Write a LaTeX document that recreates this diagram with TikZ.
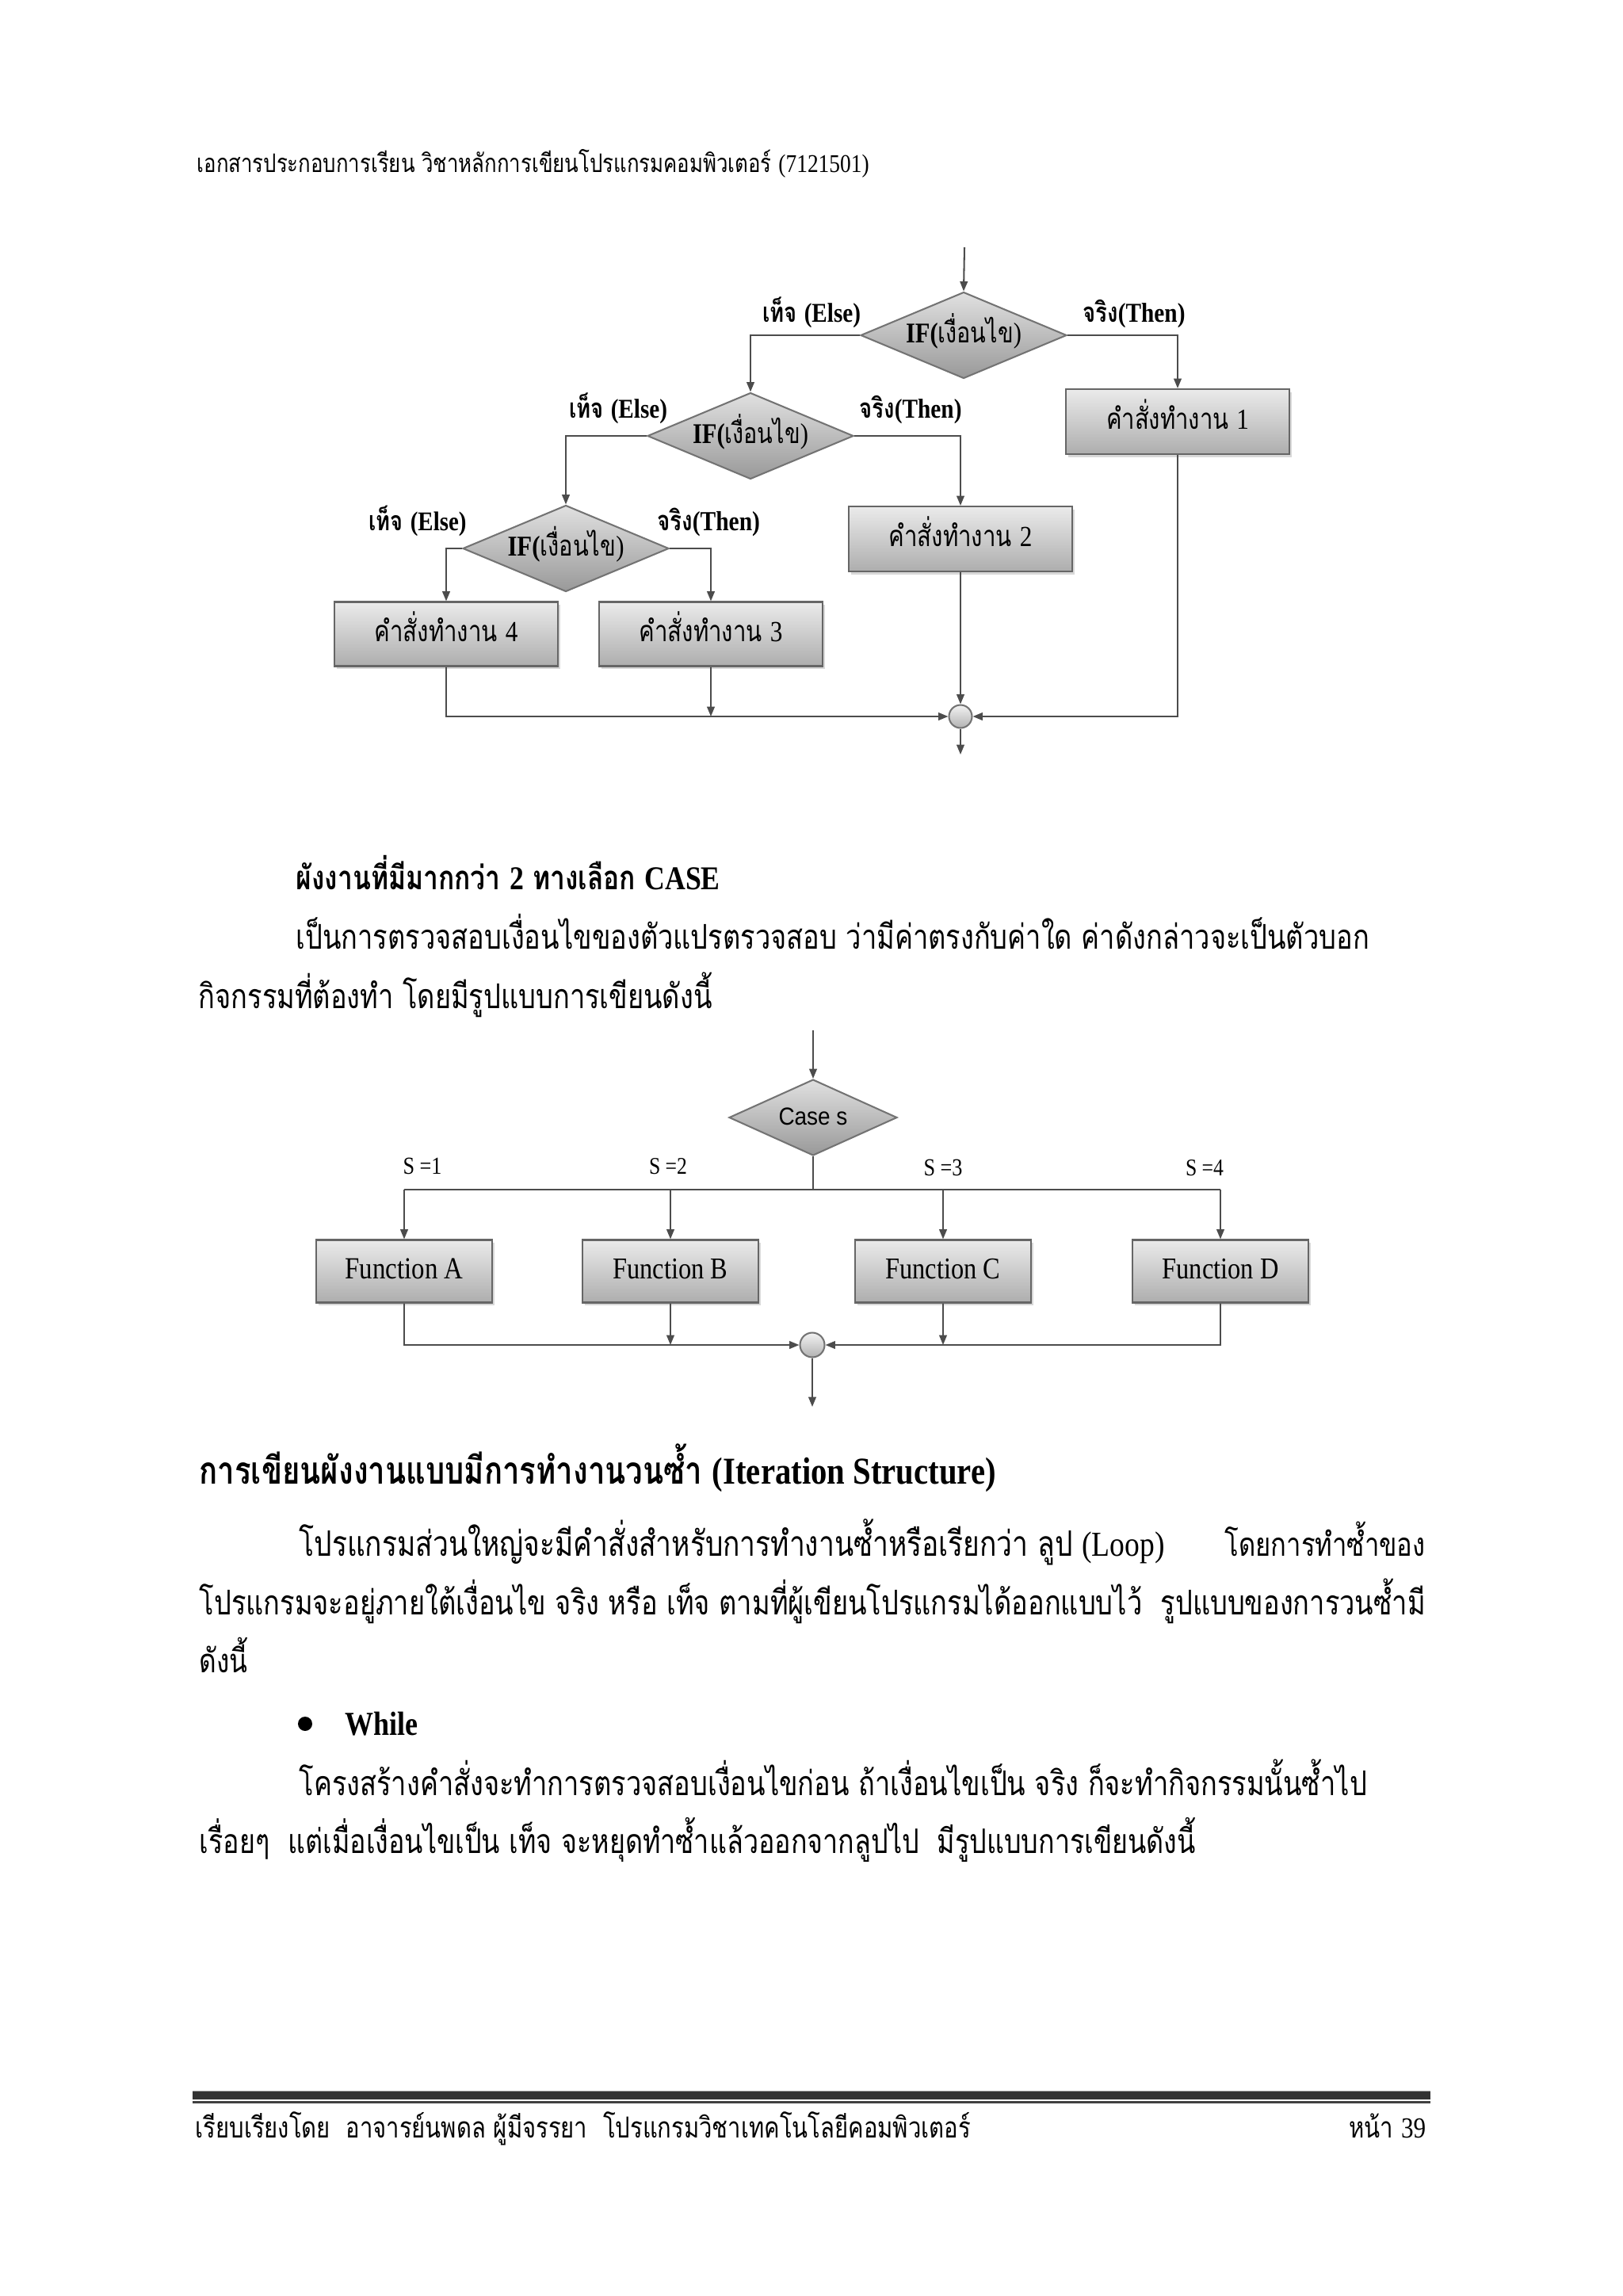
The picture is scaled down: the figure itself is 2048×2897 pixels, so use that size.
\documentclass[tikz,border=0pt]{standalone}
\usepackage{fontspec}
\usetikzlibrary{shapes.geometric,arrows.meta,shadows,calc}
\newfontfamily\thai[Script=Thai,FakeStretch=0.8]{Loma}
\newfontfamily\lat[Scale=1.0,FakeStretch=0.85]{Liberation Serif}
\newfontfamily\latsans[FakeStretch=0.9]{Liberation Sans}
\newlength\pxu \setlength\pxu{0.10254mm}
\newcommand\fit[2]{\resizebox{#1\pxu}{!}{#2}}
\newcommand\thx[1]{{\thai #1}}
\newcommand\latx[1]{{\lat #1}}
\tikzset{
  pbox/.style={rectangle, draw=black!60, line width=0.6pt, top color=black!8, bottom color=black!32,
    minimum width=282\pxu, minimum height=82\pxu, inner sep=0pt, text height=5.6pt, text depth=0pt,
    drop shadow={shadow xshift=0.9pt, shadow yshift=-1.1pt, opacity=0.3}},
  fbox/.style={pbox, minimum width=222\pxu, minimum height=79\pxu},
  dec/.style={diamond, draw=black!55, line width=0.6pt, top color=black!12, bottom color=black!40,
    minimum width=260\pxu, minimum height=109\pxu, inner sep=0pt, shape aspect=2.4, text height=5.6pt, text depth=0pt},
  cdec/.style={dec, minimum width=212\pxu, minimum height=96\pxu, shape aspect=2.2},
  junc/.style={circle, draw=black!55, line width=0.6pt, top color=black!5, bottom color=black!30, minimum size=29\pxu, inner sep=0pt},
  flow/.style={draw=black!70, line width=0.6pt, -{Triangle[length=3.6pt,width=2.8pt]}},
  plain/.style={draw=black!70, line width=0.6pt},
  txt/.style={inner sep=0pt, anchor=base west},
  lbl/.style={inner sep=0pt, anchor=center, text height=5.6pt, text depth=0pt},
}
\begin{document}
\begin{tikzpicture}[x=0.10254mm, y=-0.10254mm]
\fill[white] (0,0) rectangle (2048,2897);
\useasboundingbox (0,0) rectangle (2048,2897);

% ---------- header ----------
\node[txt] (hdr) at (248,217) {\fit{848}{\thx{เอกสารประกอบการเรียน วิชาหลักการเขียนโปรแกรมคอมพิวเตอร์ }\latx{(7121501)}}};

% ---------- flowchart 1 (nested IF) ----------
\coordinate (in1) at (1217,312);
\node[dec] (d1) at (1216,423) {\fit{146}{\latx{\bfseries IF(}\thx{เงื่อนไข}\latx{)}}};
\node[pbox] (b1) at (1486,532) {\fit{180}{\thx{คำสั่งทำงาน }\latx{1}}};
\node[dec] (d2) at (947,550) {\fit{146}{\latx{\bfseries IF(}\thx{เงื่อนไข}\latx{)}}};
\node[pbox] (b2) at (1212,680) {\fit{181}{\thx{คำสั่งทำงาน }\latx{2}}};
\node[dec] (d3) at (714,692) {\fit{147}{\latx{\bfseries IF(}\thx{เงื่อนไข}\latx{)}}};
\node[pbox, minimum height=81\pxu] (b4) at (563,800) {\fit{181}{\thx{คำสั่งทำงาน }\latx{4}}};
\node[pbox, minimum height=81\pxu] (b3) at (897,800) {\fit{181}{\thx{คำสั่งทำงาน }\latx{3}}};
\node[junc] (j1) at (1212,904) {};
\coordinate (out1) at (1212,952);

\node[lbl] (e1) at (1024,397) {\fit{124}{\thx{\bfseries เท็จ }\latx{\bfseries (Else)}}};
\node[lbl] (t1) at (1431,397) {\fit{129}{\thx{\bfseries จริง}\latx{\bfseries (Then)}}};
\node[lbl] (e2) at (780,518) {\fit{124}{\thx{\bfseries เท็จ }\latx{\bfseries (Else)}}};
\node[lbl] (t2) at (1149,518) {\fit{129}{\thx{\bfseries จริง}\latx{\bfseries (Then)}}};
\node[lbl] (e3) at (527,660) {\fit{123}{\thx{\bfseries เท็จ }\latx{\bfseries (Else)}}};
\node[lbl] (t3) at (894,660) {\fit{130}{\thx{\bfseries จริง}\latx{\bfseries (Then)}}};

\draw[flow] (in1) -- (d1.north);
\draw[flow] (d1.west) -| (d2.north);
\draw[flow] (d1.east) -| (b1.north);
\draw[flow] (d2.west) -| (d3.north);
\draw[flow] (d2.east) -| (b2.north);
\draw[flow] (d3.west) -| (b4.north);
\draw[flow] (d3.east) -| (b3.north);
\draw[flow] (b4.south) |- (j1.west);
\draw[flow] (b3.south) -- (b3.south |- j1.center);
\draw[flow] (b2.south) -- (j1.north);
\draw[flow] (b1.south) |- (j1.east);
\draw[flow] (j1.south) -- (out1);

% ---------- section text ----------
\node[txt] (s1) at (373,1122) {\fit{535}{\thx{\bfseries ผังงานที่มีมากกว่า }\latx{\bfseries 2}\thx{\bfseries{} ทางเลือก }\latx{\bfseries CASE}}};
\node[txt] (p1a) at (373,1197) {\fit{1354}{\thx{เป็นการตรวจสอบเงื่อนไขของตัวแปรตรวจสอบ ว่ามีค่าตรงกับค่าใด ค่าดังกล่าวจะเป็นตัวบอก}}};
\node[txt] (p1b) at (250,1272) {\fit{648}{\thx{กิจกรรมที่ต้องทำ โดยมีรูปแบบการเขียนดังนี้}}};

% ---------- flowchart 2 (CASE) ----------
\coordinate (in2) at (1026,1300);
\node[cdec] (cd) at (1026,1410) {\fit{87}{{\latsans Case s}}};
\coordinate (bus) at (1026,1501);
\coordinate (busA) at (510,1501);
\coordinate (busB) at (846,1501);
\coordinate (busC) at (1190,1501);
\coordinate (busD) at (1540,1501);
\node[fbox] (fa) at (510,1604) {\fit{149}{\latx{Function A}}};
\node[fbox] (fb) at (846,1604) {\fit{145}{\latx{Function B}}};
\node[fbox] (fc) at (1190,1604) {\fit{145}{\latx{Function C}}};
\node[fbox] (fd) at (1540,1604) {\fit{147}{\latx{Function D}}};
\node[junc, minimum size=31\pxu] (j2) at (1025,1697) {};
\coordinate (out2) at (1025,1775);

\node[lbl] (sa) at (533,1472) {\fit{49}{\latx{S =1}}};
\node[lbl] (sb) at (843,1472) {\fit{48}{\latx{S =2}}};
\node[lbl] (sc) at (1190,1474) {\fit{49}{\latx{S =3}}};
\node[lbl] (sd) at (1520,1474) {\fit{48}{\latx{S =4}}};

\draw[flow] (in2) -- (cd.north);
\draw[plain] (cd.south) -- (bus);
\draw[plain] (busA) -- (busD);
\draw[flow] (busA) -- (fa.north);
\draw[flow] (busB) -- (fb.north);
\draw[flow] (busC) -- (fc.north);
\draw[flow] (busD) -- (fd.north);
\draw[flow] (fa.south) |- (j2.west);
\draw[flow] (fb.south) -- (fb.south |- j2.center);
\draw[flow] (fc.south) -- (fc.south |- j2.center);
\draw[flow] (fd.south) |- (j2.east);
\draw[flow] (j2.south) -- (out2);

% ---------- iteration text ----------
\node[txt] (h2) at (251,1872) {\fit{1005}{\thx{\bfseries การเขียนผังงานแบบมีการทำงานวนซ้ำ }\latx{\bfseries (Iteration Structure)}}};
\node[txt] (p2a) at (377,1963) {\fit{1092}{\thx{โปรแกรมส่วนใหญ่จะมีคำสั่งสำหรับการทำงานซ้ำหรือเรียกว่า ลูป }\latx{(Loop)}}};
\node[txt] (p2b) at (1545,1963) {\fit{253}{\thx{โดยการทำซ้ำของ}}};
\node[txt] (p2c) at (251,2037) {\fit{1547}{\thx{โปรแกรมจะอยู่ภายใต้เงื่อนไข จริง หรือ เท็จ ตามที่ผู้เขียนโปรแกรมได้ออกแบบไว้~ รูปแบบของการวนซ้ำมี}}};
\node[txt] (p2d) at (251,2110) {\fit{61}{\thx{ดังนี้}}};
\fill (385,2175) circle (9);
\node[txt] (wh) at (435,2189) {\fit{92}{\latx{\bfseries While}}};
\node[txt] (p3a) at (377,2265) {\fit{1347}{\thx{โครงสร้างคำสั่งจะทำการตรวจสอบเงื่อนไขก่อน ถ้าเงื่อนไขเป็น จริง ก็จะทำกิจกรรมนั้นซ้ำไป}}};
\node[txt] (p3b) at (251,2338) {\fit{1257}{\thx{เรื่อยๆ~ แต่เมื่อเงื่อนไขเป็น เท็จ จะหยุดทำซ้ำแล้วออกจากลูปไป~ มีรูปแบบการเขียนดังนี้}}};

% ---------- footer ----------
\fill[black!80] (243,2639) rectangle (1805,2649);
\draw[black!40, line width=1\pxu] (243,2638) -- (1805,2638);
\fill[black!75] (243,2651) rectangle (1805,2654);
\node[txt] (ft) at (246,2697) {\fit{978}{\thx{เรียบเรียงโดย~ อาจารย์นพดล ผู้มีจรรยา~ โปรแกรมวิชาเทคโนโลยีคอมพิวเตอร์}}};
\node[inner sep=0pt, anchor=base east] (pg) at (1800,2697) {\fit{97}{\thx{หน้า }\latx{39}}};
\end{tikzpicture}
\end{document}
